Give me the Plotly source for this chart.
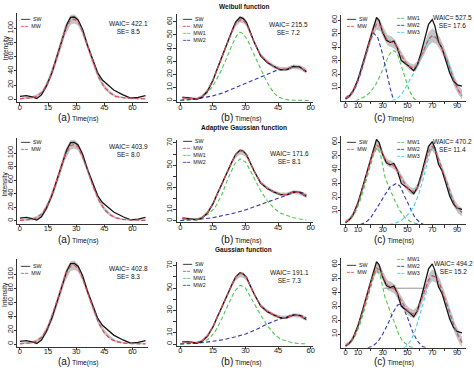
import plotly.graph_objects as go

# ---------------- data ----------------
# Panel (a): single-waveform fits
time_a_sw = [0, 3.5, 7, 9, 11.5, 14, 17, 19.5, 22, 25, 27, 29, 31, 33.5, 36, 39, 41.5, 44, 47, 50, 55, 59, 63, 67]
sw_a = [4, 5, 3, 1, 6, 18, 37, 58, 81, 105, 115.5, 116, 112, 98, 76, 53, 37, 27, 20, 13, 6, 1.5, 2.5, 5]
time_a_mw = [0, 3, 6, 9, 12, 15, 18, 21, 24, 27, 29, 31, 33, 36, 39, 42, 45, 48, 51, 55, 60, 67]
mw_a_weib = [0.5, 1, 2, 4, 10, 24, 45, 70, 97, 112, 113, 109, 98, 76, 52, 31, 17, 9, 4, 2, 1, 0.5]
mw_a_adapt = [0.5, 1, 2, 4.5, 11, 25, 46, 71, 97, 111, 113, 109, 97, 75, 51, 31, 17, 9, 4.5, 2, 1, 0.5]
mw_a_gauss = [0.3, 0.8, 2, 4.5, 11, 25, 47, 72, 98, 112, 113.5, 109, 97, 75, 50, 30, 16, 8, 4, 1.5, 0.8, 0.3]
band_a_lo = [0, 0, 0.5, 2, 7, 19, 39, 63, 89, 105, 107, 104, 93, 71, 47, 27, 14, 7, 2.5, 1, 0, 0]
band_a_hi = [2, 2.5, 4, 7, 13, 29, 51, 77, 104, 119, 120, 115, 103, 81, 57, 35, 21, 12, 6, 3.5, 2.5, 2]

# Panel (b): two-component fits
time_b_sw = [1, 4, 7.5, 10, 12.5, 15, 17, 19.5, 21.7, 24, 25.5, 27.5, 29, 30.5, 32, 34, 37, 40, 43, 46, 49, 52, 55, 58]
sw_b = [2.3, 2, 0.8, 2.5, 7, 15, 24, 35, 45, 54, 59.8, 63.5, 62.5, 59.5, 53, 44.7, 34, 29, 26, 23.5, 23.5, 26, 25.5, 22]
mw_b_weib = [2, 1.8, 1.2, 3, 7.5, 15.5, 24, 35, 45, 53.5, 58.5, 61.5, 61, 58.5, 52.5, 44.5, 34.5, 29.5, 26, 24, 24, 25.5, 25, 22.5]
mw_b_adapt = [2, 1.9, 1.2, 2.8, 7.2, 15.2, 24, 35, 45, 54, 59.5, 63, 62.2, 59, 52.8, 44.6, 34.2, 29.2, 26, 23.8, 23.6, 25.8, 25.3, 22.3]
mw_b_gauss = [2.1, 1.9, 1.3, 2.9, 7.3, 15.3, 24, 35, 45, 54, 59.6, 63, 62.3, 59.2, 53, 44.6, 34.2, 29.2, 26, 23.7, 23.6, 25.8, 25.4, 22.2]
band_b_lo = [0.8, 0.6, 0.2, 1.8, 6, 14, 22.5, 33.5, 43.2, 51.5, 56.5, 59.5, 59, 56.5, 50.8, 43, 33, 28, 24.5, 22.5, 22.5, 24, 23.5, 20.5]
band_b_hi = [3.2, 3, 2.3, 4.2, 9, 17, 25.5, 36.5, 46.8, 55.5, 61, 64.5, 64, 61, 54.5, 46, 36, 31, 27.5, 25.5, 25.5, 27.5, 27, 24.5]

time_b_mw1_weib = [0, 5, 8, 10, 12, 15, 18, 21, 24, 26, 27.5, 29, 31, 33, 35, 37, 39, 41, 43, 45, 48, 52, 56, 60]
mw1_b_weib = [0, 0.3, 1, 2.5, 5, 11, 20, 31, 43, 49.5, 52, 51, 46, 38.5, 31, 24, 17, 11, 6, 2.8, 0.8, 0.2, 0.1, 0]
time_b_mw2_weib = [0, 5, 10, 15, 20, 25, 30, 35, 40, 45, 47, 50, 52, 55, 58]
mw2_b_weib = [0.2, 0.8, 2, 3.5, 6, 9.5, 13, 16.5, 20, 23.5, 23.5, 24, 26, 25.5, 22]

time_b_mw1 = [0, 5, 10, 13, 16, 19, 22, 25, 27.5, 30, 32, 34, 37, 40, 43, 46, 49, 52, 55, 58]
mw1_b_adapt = [0.3, 0.8, 3, 6, 12, 23, 38, 51, 55.6, 53, 46, 38.5, 27, 18, 11.5, 7, 4.6, 2.8, 1.6, 0.8]
mw1_b_gauss = [0, 0.3, 1.5, 4.5, 11, 22, 35, 47, 52.5, 50, 43, 36, 26, 16.5, 9.5, 4.5, 2.5, 1, 0.5, 0.3]
time_b_mw2 = [0, 5, 10, 15, 20, 25, 30, 35, 40, 45, 50, 53, 56, 58]
mw2_b_adapt = [0.3, 0.8, 1.6, 2.8, 4.8, 7, 9.8, 13.2, 17, 20.5, 24, 25.8, 25.5, 23.5]
mw2_b_gauss = [0.2, 0.6, 1.3, 2.5, 4, 6.3, 9, 13, 18, 21.8, 25, 26, 25.3, 23.5]

# Panel (c): three-component fits
time_c_sw = [0, 3, 6, 10, 14, 18, 22, 25, 27, 30, 33, 36, 39, 42, 45, 48, 51, 55, 58, 61, 64, 67, 70, 72, 75, 78, 81, 84, 87, 90, 94]
sw_c = [1.5, 3.5, 7, 16, 28, 41, 53, 62, 60, 51, 45, 43.5, 44.5, 39, 30, 28, 26, 22.5, 27, 36, 47, 57, 60.5, 56, 44, 39, 30, 21, 15, 12, 11]
time_c_mw = [0, 3, 6, 10, 14, 18, 22, 25, 28, 31, 34, 37, 40, 43, 46, 49, 52, 55, 58, 61, 64, 67, 70, 73, 76, 79, 82, 85, 88, 91, 94]
mw_c_weib = [2, 3.5, 7, 15, 27, 40, 52, 57, 56, 50, 45, 44, 42, 37, 32, 28, 25.5, 24.5, 27, 33, 40, 46, 48.5, 47, 43, 37, 30, 22, 14, 8, 4]
band_c_weib_lo = [0.5, 2, 5, 13, 24, 37, 48, 53, 52, 46, 41, 40, 38.5, 34, 29, 25.5, 23, 22, 24.5, 30, 36, 41, 43.5, 42.5, 38.5, 33, 26, 18, 10, 5, 1]
band_c_weib_hi = [3.5, 5, 9, 17, 30, 43, 56, 61, 60, 54, 49, 48, 45.5, 40, 35, 30.5, 28, 27, 29.5, 36, 44, 51, 54, 52, 47.5, 41.5, 34, 26, 18, 12, 8]
mw_c_adapt = [2, 3.5, 7, 15, 27, 40, 52, 58, 56, 49, 45, 44, 42, 37, 32, 28, 25, 24, 27, 34, 44, 53, 57, 53, 45, 38, 30, 22, 15, 11, 9]
band_c_adapt_lo = [0.5, 2, 5, 13, 24.5, 37.5, 49, 54.5, 53, 46.5, 42.5, 41.5, 39.5, 34.5, 29.5, 25.5, 22.5, 21.5, 24.5, 31, 41, 50, 54, 50, 42, 35, 27, 19, 12, 8, 6]
band_c_adapt_hi = [3.5, 5, 9, 17, 29.5, 42.5, 55, 61, 59, 51.5, 47.5, 46.5, 44.5, 39.5, 34.5, 30.5, 27.5, 26.5, 29.5, 37, 47, 56, 60, 56, 48, 41, 33, 25, 18, 14, 12]
mw_c_gauss = [2, 3.5, 7, 15, 27, 40, 52, 57.5, 56, 50, 45, 44, 42, 37, 32, 28, 25.5, 24.5, 27, 34, 42, 49, 52, 51, 46, 39, 31, 23, 15, 9, 4]
band_c_gauss_lo = [0.5, 2, 5, 13, 24, 37, 48.5, 54, 52.5, 46.5, 41.5, 40.5, 38.5, 33.5, 28.5, 25, 22.5, 21.5, 24, 30.5, 38, 45, 48, 47, 42, 35, 27, 19, 11, 5, 0.5]
band_c_gauss_hi = [3.5, 5, 9, 17, 30, 43, 55.5, 61, 59.5, 53.5, 48.5, 47.5, 45.5, 40.5, 35.5, 31, 28.5, 27.5, 30, 37.5, 46, 53, 56.5, 55, 50, 43, 35, 27, 19, 13, 8]

time_c_mw1_weib = [8, 12, 16, 20, 24, 28, 32, 35, 38, 40, 42, 45, 48, 51, 54, 57]
mw1_c_weib = [0, 1.5, 3.5, 6.5, 11.5, 19, 28, 34, 37.4, 37, 34.5, 26, 17, 9, 3, 0.5]
time_c_mw2_weib = [0, 4, 8, 12, 16, 19, 22.5, 26, 29, 32, 34, 36, 38, 40]
mw2_c_weib = [2, 5, 10, 20, 33, 43, 50.5, 47, 38, 27, 18, 9.5, 3, 0.5]
time_c_mw3_weib = [37, 42, 46, 50, 54, 57, 60, 64, 67, 70, 73, 76, 79, 82, 85, 88, 91, 94]
mw3_c_weib = [0, 2, 6, 12, 19, 24, 30, 39, 45, 48, 47, 43, 37, 30, 22, 14, 8, 4]

time_c_mw1_adapt = [0, 4, 8, 12, 16, 20, 23, 25.5, 28, 32, 36, 40, 44, 48, 52, 56, 60]
mw1_c_adapt = [1.5, 4, 9, 18, 30, 43, 52, 56, 52, 34, 25, 17, 10, 5, 2.5, 1, 0.3]
time_c_mw2_adapt = [12, 16, 20, 24, 28, 32, 36, 41, 44, 48, 52, 56, 60, 63]
mw2_c_adapt = [0, 1.5, 4.5, 10, 16, 22, 27.5, 30, 28, 20, 12, 5, 1.5, 0]
time_c_mw3_adapt = [35, 40, 45, 50, 55, 59, 62, 65, 68, 70, 72, 75, 78, 81, 84, 87, 90, 94]
mw3_c_adapt = [0, 1, 3, 7, 13, 22, 31, 42, 52, 56, 55, 48, 40, 32, 23, 16, 12, 9]

time_c_mw1_gauss = [0, 4, 8, 12, 16, 20, 23, 25, 28, 32, 36, 40, 43, 46, 49, 52, 55]
mw1_c_gauss = [1.5, 4, 9, 18, 30, 43, 52, 56.5, 52, 36, 26, 17, 10, 5, 2.9, 1, 0.3]
time_c_mw2_gauss = [18, 22, 26, 30, 34, 38, 42, 44, 46, 50, 54, 58, 62, 65]
mw2_c_gauss = [0.3, 1.5, 4.5, 10, 17, 25, 31, 31.5, 30, 22, 12, 5, 1.2, 0.3]
time_c_mw3_gauss = [47, 50, 53, 56, 59, 62, 65, 68, 70, 73, 76, 79, 82, 85, 88, 91, 94]
mw3_c_gauss = [0, 2, 6, 12, 21, 31, 41, 49, 52, 50, 44, 37, 29, 21, 13, 8, 4]
guide_t_gauss = [31, 65]
guide_v_gauss = [43, 43]

# statistics text
waic = [["422.1", "215.5", "527.5"], ["403.9", "171.6", "470.2"], ["402.8", "191.1", "494.2"]]
se = [["8.5", "7.2", "17.6"], ["8.0", "8.1", "11.4"], ["8.3", "7.3", "15.2"]]
row_titles = ["Weibull function", "Adaptive Gaussian function", "Gaussian function"]
panel_letters = ["(a)", "(b)", "(c)"]

# ticks (labelled ticks, plus unlabelled minor ticks where R skipped labels)
xt_ab = [0, 15, 30, 45, 60]
xt_c = [0, 10, 30, 50, 70, 90]
xt_c_minor = [20, 40, 60, 80]
yt_a = [0, 20, 40, 60, 80, 100]
yt_b1 = [0, 10, 20, 30, 40, 50, 60]
yt_b2 = [0, 10, 30, 50, 70]
yt_b2_minor = [20, 40, 60]
yt_c = [10, 20, 30, 40, 50, 60]

# ---------------- styling / layout ----------------
W, H = 474, 368
FONT = "Liberation Sans, Arial, sans-serif"
BLACK = "#151515"
RED = "#E04A5A"
GREEN = "#52C552"
BLUE = "#3434B4"
CYAN = "#46D4E2"
BAND = "rgba(150,150,150,0.55)"
DASH = "4px,2.5px"

fig = go.Figure()


def names(k):
    return ("x" if k == 1 else f"x{k}"), ("y" if k == 1 else f"y{k}")


def add_line(k, t, v, color, dash=None, width=1.1):
    xa, ya = names(k)
    fig.add_trace(go.Scatter(x=t, y=v, mode="lines", xaxis=xa, yaxis=ya,
                             line=dict(color=color, width=width, dash=dash),
                             showlegend=False, hoverinfo="skip"))


def add_band(k, t, lo, hi):
    xa, ya = names(k)
    fig.add_trace(go.Scatter(x=t, y=lo, mode="lines", xaxis=xa, yaxis=ya,
                             line=dict(width=0, color=BAND), showlegend=False, hoverinfo="skip"))
    fig.add_trace(go.Scatter(x=t, y=hi, mode="lines", xaxis=xa, yaxis=ya, fill="tonexty",
                             fillcolor=BAND, line=dict(width=0, color=BAND),
                             showlegend=False, hoverinfo="skip"))


# row data bundles
mw_a_rows = [mw_a_weib, mw_a_adapt, mw_a_gauss]
mw_b_rows = [mw_b_weib, mw_b_adapt, mw_b_gauss]
mw1_b_rows = [(time_b_mw1_weib, mw1_b_weib), (time_b_mw1, mw1_b_adapt), (time_b_mw1, mw1_b_gauss)]
mw2_b_rows = [(time_b_mw2_weib, mw2_b_weib), (time_b_mw2, mw2_b_adapt), (time_b_mw2, mw2_b_gauss)]
mw_c_rows = [(mw_c_weib, band_c_weib_lo, band_c_weib_hi),
             (mw_c_adapt, band_c_adapt_lo, band_c_adapt_hi),
             (mw_c_gauss, band_c_gauss_lo, band_c_gauss_hi)]
mw1_c_rows = [(time_c_mw1_weib, mw1_c_weib), (time_c_mw1_adapt, mw1_c_adapt), (time_c_mw1_gauss, mw1_c_gauss)]
mw2_c_rows = [(time_c_mw2_weib, mw2_c_weib), (time_c_mw2_adapt, mw2_c_adapt), (time_c_mw2_gauss, mw2_c_gauss)]
mw3_c_rows = [(time_c_mw3_weib, mw3_c_weib), (time_c_mw3_adapt, mw3_c_adapt), (time_c_mw3_gauss, mw3_c_gauss)]

for r in range(3):
    ka, kb, kc = 3 * r + 1, 3 * r + 2, 3 * r + 3
    # (a)
    add_band(ka, time_a_mw, band_a_lo, band_a_hi)
    add_line(ka, time_a_sw, sw_a, BLACK, width=1.3)
    add_line(ka, time_a_mw, mw_a_rows[r], RED, dash=DASH, width=1.2)
    # (b)
    add_band(kb, time_b_sw, band_b_lo, band_b_hi)
    add_line(kb, mw1_b_rows[r][0], mw1_b_rows[r][1], GREEN, dash=DASH)
    add_line(kb, mw2_b_rows[r][0], mw2_b_rows[r][1], BLUE, dash=DASH)
    add_line(kb, time_b_sw, sw_b, BLACK, width=1.3)
    add_line(kb, time_b_sw, mw_b_rows[r], RED, dash=DASH, width=1.2)
    # (c)
    mwc, lo, hi = mw_c_rows[r]
    add_band(kc, time_c_mw, lo, hi)
    if r == 2:
        add_line(kc, guide_t_gauss, guide_v_gauss, "#8a8a8a", width=0.9)
    add_line(kc, mw1_c_rows[r][0], mw1_c_rows[r][1], GREEN, dash=DASH)
    add_line(kc, mw2_c_rows[r][0], mw2_c_rows[r][1], BLUE, dash=DASH)
    add_line(kc, mw3_c_rows[r][0], mw3_c_rows[r][1], CYAN, dash=DASH)
    add_line(kc, time_c_sw, sw_c, BLACK, width=1.3)
    add_line(kc, time_c_mw, mwc, RED, dash=DASH, width=1.2)


def xdom(p0, v0, p1, v1, rng):
    s = (p1 - p0) / (v1 - v0)
    return [(p0 + (rng[0] - v0) * s) / W, (p0 + (rng[1] - v0) * s) / W]


def ydom(p0, v0, p1, v1, rng):
    s = (p1 - p0) / (v1 - v0)
    bottom = p0 + (rng[0] - v0) * s
    top = p0 + (rng[1] - v0) * s
    return [1 - bottom / H, 1 - top / H]


# pixel calibration: (pixel of value0, value0, pixel of value1, value1, range)
XCAL = [(20, 0, 133, 60, [-1.5, 68.5]), (181, 0, 312, 60, [-1.5, 61]), (347, 0, 459, 90, [-3.5, 97])]
YCAL = [
    [(97.7, 0, 26.5, 100, [-4, 122]), (99, 0, 20, 60, [-1.5, 66]), (99.5, 0, 18.3, 60, [0.3, 64])],
    [(220, 0, 152, 100, [-4, 122]), (220, 0, 141.7, 70, [-1.5, 73]), (223.8, 0, 141, 60, [0.3, 64.5])],
    [(344, 0, 274, 100, [-4, 122]), (344, 0, 265, 70, [-1.5, 73]), (348, 0, 264, 60, [0.3, 65])],
]
XTICKS = [(xt_ab, None), (xt_ab, None), (xt_c, xt_c_minor)]
YTICKS = [[(yt_a, None), (yt_b1, None), (yt_c, None)],
          [(yt_a, None), (yt_b2, yt_b2_minor), (yt_c, None)],
          [(yt_a, None), (yt_b2, yt_b2_minor), (yt_c, None)]]

TICKLEN = 2.5
common = dict(showline=True, linecolor="#333333", linewidth=1, ticks="outside", ticklen=TICKLEN,
              tickwidth=1, tickcolor="#333333", showgrid=False, zeroline=False,
              tickfont=dict(family=FONT, size=7.5, color="#222222"), fixedrange=True)


def minor_spec(vals):
    if vals is None:
        return dict(ticks="")
    return dict(tickvals=vals, ticks="outside", ticklen=TICKLEN, tickwidth=1,
                tickcolor="#333333", showgrid=False)


layout_axes = {}
for r in range(3):
    for c in range(3):
        k = 3 * r + c + 1
        xa, ya = names(k)
        xc = XCAL[c]
        yc = YCAL[r][c]
        layout_axes["xaxis" if k == 1 else f"xaxis{k}"] = dict(
            domain=xdom(*xc[:4], xc[4]), range=xc[4], anchor=ya,
            tickvals=XTICKS[c][0], ticktext=[str(v) for v in XTICKS[c][0]],
            minor=minor_spec(XTICKS[c][1]), ticklabelstandoff=-5, **common)
        layout_axes["yaxis" if k == 1 else f"yaxis{k}"] = dict(
            domain=ydom(*yc[:4], yc[4]), range=yc[4], anchor=xa, tickangle=-90,
            tickvals=YTICKS[r][c][0], ticktext=[str(v) for v in YTICKS[r][c][0]],
            minor=minor_spec(YTICKS[r][c][1]), ticklabelstandoff=-2, **common)

fig.update_layout(**layout_axes)

ann = []


def px(x, y, text, size=7, xanchor="center", yanchor="middle", bold=False, angle=0,
       color="#111111", align="center"):
    if bold:
        text = f"<b>{text}</b>"
    ann.append(dict(x=x / W, y=1 - y / H, xref="paper", yref="paper", text=text, showarrow=False,
                    xanchor=xanchor, yanchor=yanchor, textangle=angle, align=align, borderpad=0,
                    font=dict(family=FONT, size=size, color=color)))


# row titles
title_y = [4.5, 126.5, 249]
for r in range(3):
    px(245, title_y[r], row_titles[r], size=6.5, bold=True)

# x labels "(a) Time(ns)"
xlab_y = [116.5, 238.3, 361.8]
xlab_x = [79, 242.5, 396]
for r in range(3):
    for c in range(3):
        px(xlab_x[c], xlab_y[r],
           f'<span style="font-size:10px">{panel_letters[c]}</span> Time(ns)', size=6.8)

# Intensity label
int_y = [46, 183, 294]
for r in range(3):
    px(5.5, int_y[r], "Intensity", size=6.5, angle=-90)

# WAIC / SE (one two-line block per panel; y is the block centre)
waic_pos = [[(129, 25.5), (290, 26.2), (454, 19.5)],
            [(129, 149), (291, 156.8), (454, 144.3)],
            [(129, 271.6), (291, 276.3), (455, 267.3)]]
for r in range(3):
    for c in range(3):
        x, y = waic_pos[r][c]
        px(x, y, f"WAIC= {waic[r][c]}<br>SE= {se[r][c]}", size=6.5)

# legends: one text block per legend column (key glyph + label on each line)
SOLID = "━━━"
DASHED = "━ ━"


def legend_block(x, y_center, entries):
    lines = []
    for color, solid, label in entries:
        glyph = SOLID if solid else DASHED
        lines.append(f'<span style="color:{color};font-size:5px">{glyph}</span>  {label}')
    px(x, y_center, "<br>".join(lines), size=5.3, xanchor="left", align="left")


ENT_A = [(BLACK, True, "SW"), (RED, False, "MW")]
ENT_B = [(BLACK, True, "SW"), (RED, False, "MW"), (GREEN, False, "MW1"), (BLUE, False, "MW2")]
ENT_C2 = [(GREEN, False, "MW1"), (BLUE, False, "MW2"), (CYAN, False, "MW3")]
leg_a_y = [21, 144.7, 269]
leg_b_y = [28, 150.8, 274.2]
leg_c1_y = [21, 144.7, 268]
leg_c2_y = [22.7, 148, 265.9]
for r in range(3):
    legend_block(19, leg_a_y[r], ENT_A)
    legend_block(182, leg_b_y[r], ENT_B)
    legend_block(346, leg_c1_y[r], ENT_A)
    legend_block(397, leg_c2_y[r], ENT_C2)

fig.update_layout(width=W, height=H, autosize=False, margin=dict(l=0, r=0, t=0, b=0),
                  paper_bgcolor="white", plot_bgcolor="white", showlegend=False,
                  annotations=ann, font=dict(family=FONT, size=7, color="#111111"))

fig.write_html("out.html", include_plotlyjs=True,
               config={"displayModeBar": False, "staticPlot": True},
               post_script="document.body.style.margin='0px';document.body.style.padding='0px';"
                           "document.body.style.overflow='hidden';")
